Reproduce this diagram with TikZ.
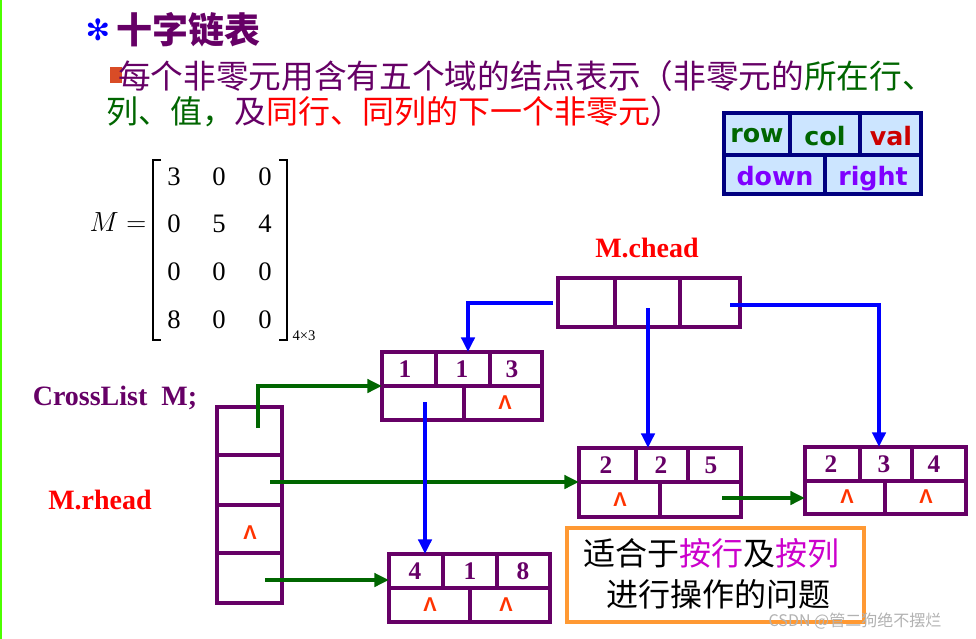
\documentclass[tikz,border=0pt]{standalone}
\usepackage{fontspec}
\setmainfont{Liberation Serif}
\newfontfamily\cjk{Noto Sans CJK SC}
\newfontfamily\comic{DejaVu Sans}
\newfontfamily\lsans{Liberation Sans}
\usetikzlibrary{arrows.meta}
\definecolor{dpur}{HTML}{660066}
\definecolor{dgreen}{HTML}{006600}
\definecolor{ored}{HTML}{FF3300}
\definecolor{legbg}{HTML}{CCE5FF}
\definecolor{navy}{HTML}{000080}
\definecolor{viol}{HTML}{7F00FF}
\definecolor{mag}{HTML}{CC00CC}
\definecolor{orng}{HTML}{FF9933}
\tikzset{
 cell/.style={draw=dpur,line width=2.4pt},
 num/.style={font=\fontsize{19}{19}\selectfont\bfseries,text=dpur},
 nil/.style={font=\lsans\fontsize{15}{15}\selectfont\bfseries,text=ored},
 garr/.style={draw=dgreen,line width=2.6pt,-{Triangle[length=11pt,width=10pt]}},
 barr/.style={draw=blue,line width=2.6pt,-{Triangle[length=11pt,width=10pt]}},
 lbl/.style={font=\fontsize{21}{21}\selectfont\bfseries,text=red},
 mnum/.style={font=\fontsize{20}{20}\selectfont},
 leg/.style={font=\comic\fontsize{19}{19}\selectfont\bfseries},
}
\begin{document}
\begin{tikzpicture}[x=0.75pt,y=-0.75pt]
\useasboundingbox (0,0) rectangle (976,639);
\fill[white] (0,0) rectangle (976,639);
\draw[green!60!lime,line width=1pt] (1,0)--(1,639);
% title
\node[text=blue,font=\comic\fontsize{22}{22}\selectfont\bfseries] (flower) at (98,30) {✻};
\node[anchor=west,text=dpur,font=\cjk\fontsize{27}{27}\selectfont\bfseries] (title) at (112,30) {十字链表};
\fill[red!40!brown] (110,67) rectangle (122,83);
\node[anchor=west,font=\cjk\fontsize{24.5}{24.5}\selectfont,inner sep=0] (l1) at (118,76) {\textcolor{dpur}{每个非零元用含有五个域的结点表示（非零元的}\textcolor{dgreen}{所在行、}};
\node[anchor=west,font=\cjk\fontsize{24}{24}\selectfont,inner sep=0] (l2) at (106,112) {\textcolor{dgreen}{列、值，}\textcolor{dpur}{及}\textcolor{red}{同行、同列的下一个非零元}\textcolor{dpur}{）}};
% legend
\fill[legbg] (724,113) rectangle (921,194);
\draw[navy,line width=2.4pt] (724,113) rectangle (921,194) (724,155)--(921,155) (790,113)--(790,155) (860,113)--(860,155) (825,155)--(825,194);
\node[leg,text=dgreen] (lrow) at (757,136) {row};
\node[leg,text=dgreen] (lcol) at (825,136) {col};
\node[leg,text=red!80!black] (lval) at (891,136) {val};
\node[leg,text=viol] (ldown) at (775,176) {down};
\node[leg,text=viol] (lright) at (873,179) {right};
% matrix
\node[font=\fontsize{20}{20}\selectfont] (M) at (118,222) {$M=$};
\draw[line width=1.2pt] (161,160)--(153,160)--(153,340)--(161,340);
\draw[line width=1.2pt] (279,160)--(287,160)--(287,340)--(279,340);
\foreach \r/\a/\b/\c [count=\i] in {177/3/0/0,224/0/5/4,272/0/0/0,320/8/0/0}{
 \node[mnum] at (174,\r) {\a}; \node[mnum] at (219,\r) {\b}; \node[mnum] at (265,\r) {\c};}
\node[font=\fontsize{11}{11}\selectfont] (sub) at (304,336) {4×3};
% labels
\node[lbl] (chl) at (647,248) {M.chead};
\node[lbl] (rhl) at (100,500) {M.rhead};
\node[font=\fontsize{21}{21}\selectfont\bfseries,text=dpur] (cl) at (115,398) {CrossList\ \ M;};
% chead
\node[cell,minimum width=182*0.75pt,minimum height=49*0.75pt,inner sep=0] (ch) at (649,302.5) {};
\draw[cell] (615,278)--(615,327) (680,278)--(680,327);
% rhead
\node[cell,minimum width=65*0.75pt,minimum height=196*0.75pt,inner sep=0] (rh) at (249.5,505) {};
\draw[cell] (217,455)--(282,455) (217,505)--(282,505) (217,553)--(282,553);
\node[nil] at (250,533) {Λ};
% node 113
\node[cell,minimum width=160*0.75pt,minimum height=68*0.75pt,inner sep=0] (n1) at (462,386) {};
\draw[cell] (382,386)--(542,386) (436,352)--(436,386) (490,352)--(490,386) (464,386)--(464,420);
\node[num] at (405,369) {1}; \node[num] at (462,369) {1}; \node[num] at (512,369) {3};
\node[nil] at (505,403) {Λ};
% node 225
\node[cell,minimum width=162*0.75pt,minimum height=69*0.75pt,inner sep=0] (n2) at (660,482.5) {};
\draw[cell] (579,482)--(741,482) (636,448)--(636,482) (688,448)--(688,482) (660,482)--(660,517);
\node[num] at (606,465) {2}; \node[num] at (661,465) {2}; \node[num] at (711,465) {5};
\node[nil] at (620,500) {Λ};
% node 234
\node[cell,minimum width=161*0.75pt,minimum height=67*0.75pt,inner sep=0] (n3) at (885.5,480.5) {};
\draw[cell] (805,481)--(966,481) (860,447)--(860,481) (912,447)--(912,481) (885,481)--(885,514);
\node[num] at (831,464) {2}; \node[num] at (884,464) {3}; \node[num] at (934,464) {4};
\node[nil] at (847,497) {Λ}; \node[nil] at (926,497) {Λ};
% node 418
\node[cell,minimum width=161*0.75pt,minimum height=68*0.75pt,inner sep=0] (n4) at (469.5,588) {};
\draw[cell] (389,588)--(550,588) (443,554)--(443,588) (497,554)--(497,588) (470,588)--(470,622);
\node[num] at (415,571) {4}; \node[num] at (470,571) {1}; \node[num] at (523,571) {8};
\node[nil] at (430,605) {Λ}; \node[nil] at (506,605) {Λ};
% coordinates
\coordinate (g1s) at (258,428); \coordinate (g1e) at (382,386);
\coordinate (g2s) at (270,482); \coordinate (g2e) at (579,482);
\coordinate (g3s) at (265,580); \coordinate (g3e) at (389,580);
\coordinate (g4s) at (722,498); \coordinate (g4e) at (805,498);
\coordinate (b1s) at (553,303); \coordinate (b1e) at (468,352);
\coordinate (b2s) at (648,308); \coordinate (b2e) at (648,448);
\coordinate (b3s) at (730,305); \coordinate (b3e) at (879,447);
\coordinate (b4s) at (425,402); \coordinate (b4e) at (425,554);
\draw[garr] (g1s)--(258,386)--(g1e);
\draw[garr] (g2s)--(g2e);
\draw[garr] (g3s)--(g3e);
\draw[garr] (g4s)--(g4e);
\draw[barr] (b1s)--(468,303)--(b1e);
\draw[barr] (b2s)--(b2e);
\draw[barr] (b3s)--(879,305)--(b3e);
\draw[barr] (b4s)--(b4e);
% note
\node[draw=orng,line width=2.4pt,minimum width=297*0.75pt,minimum height=94*0.75pt,inner sep=0] (note) at (715.5,575) {};
\node[font=\cjk\fontsize{24}{24}\selectfont] (n1t) at (711,553) {适合于\textcolor{mag}{按行}及\textcolor{mag}{按列}};
\node[font=\cjk\fontsize{24}{24}\selectfont] (n2t) at (718,594) {进行操作的问题};
\node[text=gray!60,font=\cjk\fontsize{12}{12}\selectfont] (wm) at (855,621) {CSDN @管二狗绝不摆烂};
\end{tikzpicture}
\end{document}
